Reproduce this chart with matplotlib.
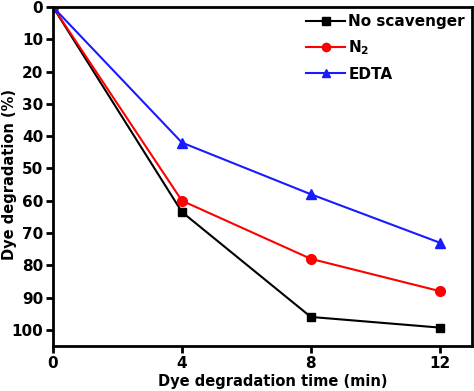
import matplotlib.pyplot as plt

time_min = [0, 4, 8, 12]
no_scavenger = [0, 63.5, 96, 99.3]
n2 = [0, 60, 78, 88]
edta = [0, 42, 58, 73]

plt.rcParams["font.family"] = ["DejaVu Sans"]
plt.rcParams["font.weight"] = "bold"

fig = plt.figure(figsize=(4.74, 3.91), dpi=100)
ax = fig.add_axes([53 / 474, 1 - 346 / 391, (472 - 53) / 474, (346 - 7) / 391])

ax.plot(time_min, no_scavenger, color="black", marker="s", markersize=6, lw=1.5, label="No scavenger")
ax.plot(time_min, n2, color="red", marker="o", markersize=7, lw=1.5, label="N$_\\mathbf{2}$")
ax.plot(time_min, edta, color="#1a1aff", marker="^", markersize=7, lw=1.5, label="EDTA")

ax.set_xlim(0, 13)
ax.set_ylim(105, 0)
ax.set_xticks([0, 4, 8, 12])
ax.set_yticks(range(0, 101, 10))
ax.tick_params(direction="out", width=2, length=5, labelsize=11, pad=2)
for lab in ax.get_xticklabels() + ax.get_yticklabels():
    lab.set_fontweight("bold")
for s in ax.spines.values():
    s.set_linewidth(2)

ax.set_xlabel("Dye degradation time (min)", fontsize=10.5, fontweight="bold")
ax.xaxis.set_label_coords((273 - 53) / 419, -(374 - 346) / 339)
ax.set_ylabel("Dye degradation (%)", fontsize=10.5, fontweight="bold")
ax.yaxis.set_label_coords(-(53 - 17) / 419, (346 - 174) / 339)

ax.legend(loc="upper right", frameon=False, fontsize=11, handlelength=2.6,
          markerscale=0.85, borderaxespad=0.2, labelspacing=0.62,
          handletextpad=0.2, borderpad=0.25)

fig.savefig("out.png", dpi=100)
